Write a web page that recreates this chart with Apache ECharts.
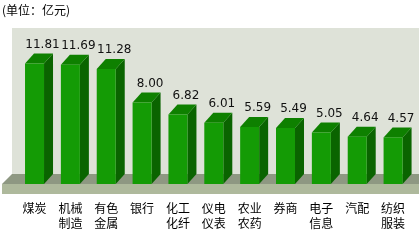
<!DOCTYPE html>
<html><head><meta charset="utf-8">
<script src="https://cdn.jsdelivr.net/npm/echarts@6/dist/echarts.min.js"></script>
<style>html,body{margin:0;padding:0;background:#fff}#c{width:419px;height:249px}</style>
</head><body><div id="c"></div>
<script>
const categories = ['煤炭','机械\n制造','有色\n金属','银行','化工\n化纤','仪电\n仪表','农业\n农药','券商','电子\n信息','汽配','纺织\n服装'];
const values = [11.81, 11.69, 11.28, 8.00, 6.82, 6.01, 5.59, 5.49, 5.05, 4.64, 4.57];
const valueLabels = ['11.81','11.69','11.28','8.00','6.82','6.01','5.59','5.49','5.05','4.64','4.57'];

const chart = echarts.init(document.getElementById('c'), null, {renderer:'canvas'});
const DX = 9, DY = 10, BW = 19;
chart.setOption({
  animation:false,
  backgroundColor:'#fff',
  graphic:[
    {type:'rect', z:0, shape:{x:12,y:28,width:407,height:146}, style:{fill:'#DEE2D8'}},
    {type:'polygon', z:0, shape:{points:[[12,174],[419,174],[419,184],[2,184]]}, style:{fill:'#8E9882'}},
    {type:'rect', z:0, shape:{x:2,y:184,width:417,height:10}, style:{fill:'#AEB99C'}},
    {type:'text', z:5, left:2, top:4, style:{text:'(单位：亿元)', fontSize:12, fontFamily:'Noto Sans CJK SC', fill:'#000'}}
  ],
  grid:{left:16.6, width:394.4, top:61.6, height:122.4},
  xAxis:{type:'category', data:categories, axisLine:{show:false}, axisTick:{show:false},
    axisLabel:{margin:17, fontSize:12, lineHeight:15, color:'#000', fontFamily:'Noto Sans CJK SC', interval:0}},
  yAxis:{type:'value', min:0, max:12, show:false, splitLine:{show:false}},
  series:[{
    type:'custom', z:10,
    data: values.map((v,i)=>[i,v]),
    renderItem:function(params, api){
      const i = api.value(0), v = api.value(1);
      const top = api.coord([i, v]);
      const base = api.coord([i, 0]);
      const x0 = top[0] - BW/2, x1 = top[0] + BW/2;
      const yt = top[1], yb = base[1];
      return {type:'group', children:[
        {type:'polygon', shape:{points:[[x1,yt],[x1+DX,yt-DY],[x1+DX,yb-DY],[x1,yb]]}, style:{fill:'#0A6400'}},
        {type:'polygon', shape:{points:[[x0,yt],[x0+DX,yt-DY],[x1+DX,yt-DY],[x1,yt]]}, style:{fill:'#0E8000'}},
        {type:'rect', shape:{x:x0,y:yt,width:BW,height:yb-yt}, style:{fill:'#149B05'}},
        {type:'text', style:{text:valueLabels[params.dataIndex], x:top[0]+8, y:yt-DY-3, align:'center', verticalAlign:'bottom', fontSize:12, fontFamily:'DejaVu Sans', fill:'#111'}}
      ]};
    }
  }]
});
</script></body></html>
